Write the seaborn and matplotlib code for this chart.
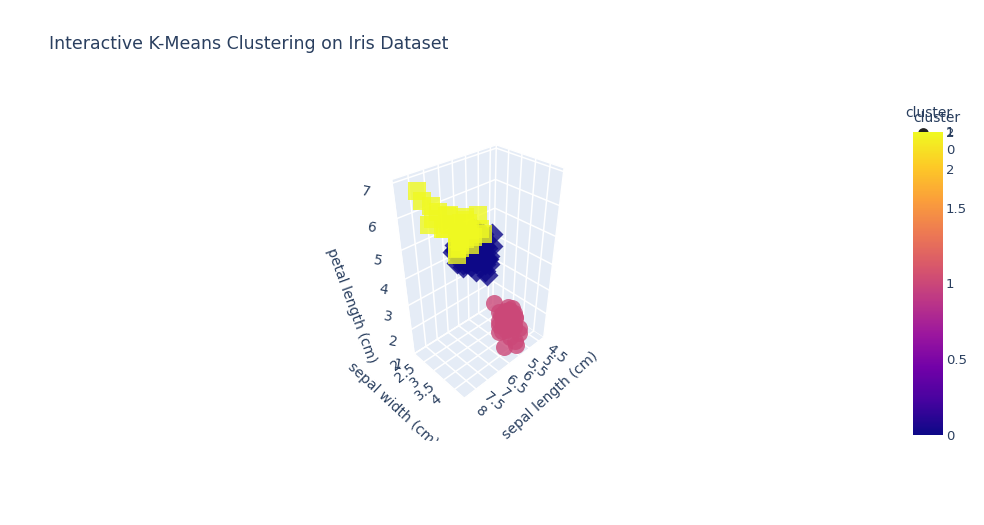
import numpy as np, matplotlib
matplotlib.use('Agg')
import matplotlib.pyplot as plt
import seaborn as sns
from matplotlib.cm import ScalarMappable
from matplotlib.colors import Normalize
from matplotlib.transforms import Bbox
from mpl_toolkits.mplot3d import proj3d

sns.set_theme(style='white')
plt.rcParams['font.family'] = ['DejaVu Sans']

TITLE = 'Interactive K-Means Clustering on Iris Dataset'
X_LABEL, Y_LABEL, Z_LABEL = 'sepal length (cm)', 'sepal width (cm)', 'petal length (cm)'
X_TICKS = [4.5, 5, 5.5, 6, 6.5, 7, 7.5, 8]
Y_TICKS = [2, 2.5, 3, 3.5, 4]
Z_TICKS = [1, 2, 3, 4, 5, 6, 7]
CBAR_TICKS = [0, 0.5, 1, 1.5, 2]
PLASMA = ['#0d0887', '#46039f', '#7201a8', '#9c179e', '#bd3786', '#d8576b', '#ed7953', '#fb9f3a', '#fdca26', '#f0f921']
INK = '#2a3f5f'

c1_sl = [5.1,4.9,4.7,4.6,5.0,5.4,4.6,5.0,4.4,4.9,5.4,4.8,4.8,4.3,5.8,5.7,5.4,5.1,5.7,5.1,5.4,5.1,4.6,5.1,4.8,5.0,5.0,5.2,5.2,4.7,4.8,5.4,5.2,5.5,4.9,5.0,5.5,4.9,4.4,5.1,5.0,4.5,4.4,5.0,5.1,4.8,5.1,4.6,5.3,5.0]
c1_sw = [3.5,3.0,3.2,3.1,3.6,3.9,3.4,3.4,2.9,3.1,3.7,3.4,3.0,3.0,4.0,4.4,3.9,3.5,3.8,3.8,3.4,3.7,3.6,3.3,3.4,3.0,3.4,3.5,3.4,3.2,3.1,3.4,4.1,4.2,3.1,3.2,3.5,3.6,3.0,3.4,3.5,2.3,3.2,3.5,3.8,3.0,3.8,3.2,3.7,3.3]
c1_pl = [1.4,1.4,1.3,1.5,1.4,1.7,1.4,1.5,1.4,1.5,1.5,1.6,1.4,1.1,1.2,1.5,1.3,1.4,1.7,1.5,1.7,1.5,1.0,1.7,1.9,1.6,1.6,1.5,1.4,1.6,1.6,1.5,1.5,1.4,1.5,1.2,1.3,1.4,1.3,1.5,1.3,1.3,1.3,1.6,1.9,1.4,1.6,1.4,1.5,1.4]

c0_sl = [7.0,6.4,5.5,6.5,5.7,6.3,4.9,6.6,5.2,5.0,5.9,6.0,6.1,5.6,6.7,5.6,5.8,6.2,5.6,5.9,6.1,6.3,6.1,6.4,6.6,6.8,6.0,5.7,5.5,5.5,5.8,6.0,5.4,6.0,6.7,6.3,5.6,5.5,5.5,6.1,5.8,5.0,5.6,5.7,5.7,6.2,5.1,5.7,5.8,4.9,5.7,5.8,6.0,5.6,6.3,6.2,6.1,6.3,6.0,5.8,6.3,5.9]
c0_sw = [3.2,3.2,2.3,2.8,2.8,3.3,2.4,2.9,2.7,2.0,3.0,2.2,2.9,2.9,3.1,3.0,2.7,2.2,2.5,3.2,2.8,2.5,2.8,2.9,3.0,2.8,2.9,2.6,2.4,2.4,2.7,2.7,3.0,3.4,3.1,2.3,3.0,2.5,2.6,3.0,2.6,2.3,2.7,3.0,2.9,2.9,2.5,2.8,2.7,2.5,2.5,2.8,2.2,2.8,2.7,2.8,3.0,2.8,3.0,2.7,2.5,3.0]
c0_pl = [4.7,4.5,4.0,4.6,4.5,4.7,3.3,4.6,3.9,3.5,4.2,4.0,4.7,3.6,4.4,4.5,4.1,4.5,3.9,4.8,4.0,4.9,4.7,4.3,4.4,4.8,4.5,3.5,3.8,3.7,3.9,5.1,4.5,4.5,4.7,4.4,4.1,4.0,4.4,4.6,4.0,3.3,4.2,4.2,4.2,4.3,3.0,4.1,5.1,4.5,5.0,5.1,5.0,4.9,4.9,4.8,4.9,5.1,4.8,5.1,5.0,5.1]

c2_sl = [6.9,6.7,6.3,7.1,6.3,6.5,7.6,7.3,6.7,7.2,6.5,6.4,6.8,6.4,6.5,7.7,7.7,6.9,7.7,6.7,7.2,6.4,7.2,7.4,7.9,6.4,6.1,7.7,6.3,6.4,6.9,6.7,6.9,6.8,6.7,6.7,6.5,6.2]
c2_sw = [3.1,3.0,3.3,3.0,2.9,3.0,3.0,2.9,2.5,3.6,3.2,2.7,3.0,3.2,3.0,3.8,2.6,3.2,2.8,3.3,3.2,2.8,3.0,2.8,3.8,2.8,2.6,3.0,3.4,3.1,3.1,3.1,3.1,3.2,3.3,3.0,3.0,3.4]
c2_pl = [4.9,5.0,6.0,5.9,5.6,5.8,6.6,6.3,5.8,6.1,5.1,5.3,5.5,5.3,5.5,6.7,6.9,5.7,6.7,5.7,6.0,5.6,5.8,6.1,6.4,5.6,5.6,6.1,5.6,5.5,5.4,5.6,5.1,5.9,5.7,5.2,5.2,5.4]

W, H = 984, 525
cmap = sns.blend_palette(PLASMA, as_cmap=True)
norm = Normalize(0, 2)

fig = plt.figure(figsize=(W / 100, H / 100), dpi=100, facecolor='white')
A, TX, TY = 1341.6, 480.28, 271.80
left, right = TX - A * 0.095, TX + A * 0.09
top, bottom = TY - A * 0.09, TY + A * 0.095
ax = fig.add_axes([left / W, 1 - bottom / H, (right - left) / W, (bottom - top) / H], projection='3d')
ax.patch.set_alpha(0)
ax.view_init(35.49, 46.26)
ax.set_proj_type('persp', focal_length=0.3152)
ax.set_box_aspect((0.6014, 0.4048, 1))
ax.set_xticks(X_TICKS[:-1]); ax.set_yticks(Y_TICKS); ax.set_zticks(Z_TICKS[1:])
ax.set_xticklabels([]); ax.set_yticklabels([]); ax.set_zticklabels([])
ax.set_xlim(4.25, 8.0); ax.set_ylim(2.0, 4.45); ax.set_zlim(0.9, 7.1)
for axis in (ax.xaxis, ax.yaxis, ax.zaxis):
    axis.set_pane_color('#E5ECF6')
    axis.pane.set_edgecolor('white')
    axis.line.set_color('white')
    axis.line.set_linewidth(1.2)
    axis._axinfo['grid'].update(color='white', linewidth=1.1)
    axis._axinfo['tick']['inward_factor'] = 0
    axis._axinfo['tick']['outward_factor'] = 0
    axis.set_tick_params(color=(1, 1, 1, 0), length=0)
ax.grid(True)

for sl, sw, pl, val, mk, size in [(c1_sl, c1_sw, c1_pl, 1, 'o', 150),
                                  (c0_sl, c0_sw, c0_pl, 0, 'D', 125),
                                  (c2_sl, c2_sw, c2_pl, 2, 's', 150)]:
    ax.scatter(sl, sw, pl, c=[cmap(norm(val))], marker=mk, s=size, alpha=0.8,
               linewidths=0, depthshade=False, clip_on=False)

M = ax.get_proj()
def label3d(x, y, z, s, dx, dy, rot):
    X, Y, _ = proj3d.proj_transform(x, y, z, M)
    ax.annotate(s, (X, Y), xytext=(dx, dy), textcoords='offset pixels', ha='center', va='center',
                rotation=rot, rotation_mode='anchor', color=INK, fontsize=10, annotation_clip=False)

for v in X_TICKS:
    label3d(v, 4.45, 0.9, f'{v:g}', 17, -13, -40)
for v in Y_TICKS:
    label3d(8.0, v, 0.9, f'{v:g}', -18, -11, 38)
for v in Z_TICKS:
    label3d(8.0, 2.0, v, f'{v:g}', -18 - 1.6 * (v - 2), -12 + 0.6 * (v - 2), -10)

def ftext(px, py, s, **kw):
    kw.setdefault('color', INK)
    return fig.text(px / W, 1 - py / H, s, **kw)

ftext(49, 44, TITLE, fontsize=12.5, ha='left', va='center')
ftext(550, 396, X_LABEL, fontsize=10.1, ha='center', va='center', rotation=42, rotation_mode='anchor')
ftext(351, 306, Z_LABEL, fontsize=10.1, ha='center', va='center', rotation=-70, rotation_mode='anchor')
t = ftext(350, 365, Y_LABEL, fontsize=10.1, ha='left', va='center', rotation=-43, rotation_mode='anchor')
t.set_clip_box(Bbox([[0, H - 441], [W, H]]))
t.set_clip_on(True)

# legend underneath the colour bar
leg = fig.add_axes([0, 0, 1, 1], zorder=2)
leg.axis('off'); leg.set_xlim(0, W); leg.set_ylim(H, 0)
sns.scatterplot(x=[923], y=[133], color='#222222', s=60, ax=leg, legend=False, linewidth=0)
ftext(928.5, 113, 'cluster', fontsize=10, ha='center', va='center', zorder=2)
for lab, py in [('1', 132), ('0', 151), ('2', 170)]:
    ftext(946, py, lab, fontsize=9.5, ha='left', va='center')

cax = fig.add_axes([913 / W, 1 - 435 / H, 30 / W, 303 / H], zorder=3)
cb = fig.colorbar(ScalarMappable(norm=norm, cmap=cmap), cax=cax, ticks=CBAR_TICKS)
cb.outline.set_visible(False)
cb.set_ticklabels([f'{v:g}' for v in CBAR_TICKS])
cax.tick_params(length=0, pad=2, labelsize=9.5, labelcolor=INK)
ftext(937, 118, 'cluster', fontsize=10, ha='center', va='center', zorder=4)

fig.savefig('out.png', dpi=100)
